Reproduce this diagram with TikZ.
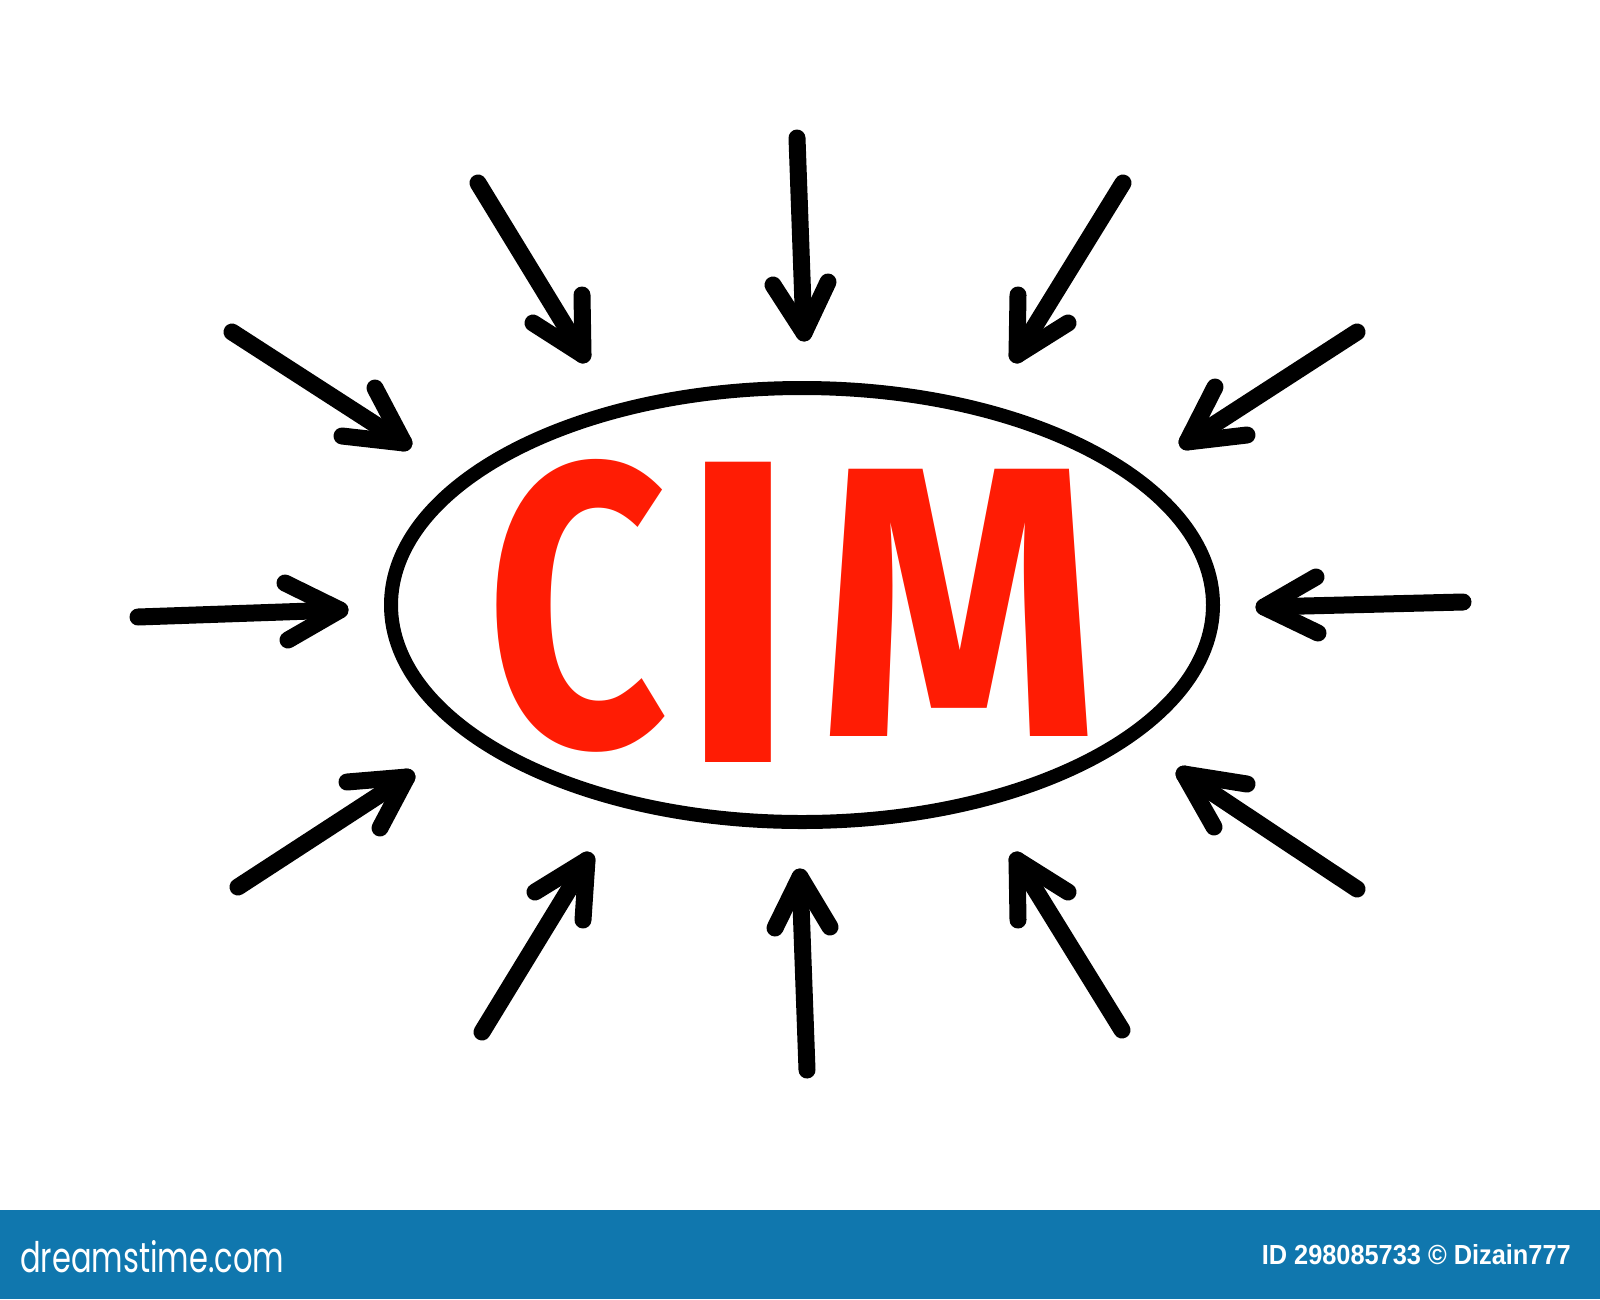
\documentclass[tikz,border=0pt]{standalone}
\usepackage{fontspec}
\usetikzlibrary{shapes.geometric}
\setmainfont{Liberation Sans}
\newfontfamily\cimfont{Fira Sans}
\newfontfamily\logofont{Poppins}
\definecolor{cimred}{RGB}{255,28,4}
\definecolor{barblue}{RGB}{16,119,174}
\newcommand\inarrow[5]{%
  \coordinate (#1t) at (#2);
  \coordinate (#1h) at (#3);
  \coordinate (#1a) at (#4);
  \coordinate (#1b) at (#5);
  \draw[arrowline] (#1t) -- (#1h);
  \draw[arrowline] (#1a) -- (#1h) -- (#1b);
}
\begin{document}
\begin{tikzpicture}[x=1pt,y=-1pt,
  arrowline/.style={line width=17pt,line cap=round,line join=round,draw=black},
  ringline/.style={ellipse,draw=black,line width=14pt,inner sep=0pt,minimum width=822pt,minimum height=434pt}]
\useasboundingbox (0,0) rectangle (1600,1299);
\fill[white] (0,0) rectangle (1600,1299);
\fill[barblue] (0,1210) rectangle (1600,1299);
\node[ringline] (ring) at (802,605) {};
\node[inner sep=0pt,text=cimred] (cim) at (793,611) {\resizebox{613pt}{302pt}{\cimfont\bfseries
  \raisebox{0.38pt}{\scalebox{0.88}[0.93]{C}}\kern0.35pt\scalebox{1.12}[1]{I}\kern0.6pt\raisebox{0.6pt}{\scalebox{1}[0.89]{M}}}};
\inarrow{tc}{797,138}{804,333}{773,285}{828,282}
\inarrow{tli}{478,183}{583,355}{533,323}{582,295}
\inarrow{tri}{1123,183}{1017,355}{1018,295}{1068,323}
\inarrow{lu}{232,332}{404,443}{342,436}{375,388}
\inarrow{ru}{1357,332}{1187,442}{1215,387}{1247,435}
\inarrow{lm}{138,617}{340,610}{285,583}{288,640}
\inarrow{rm}{1463,602}{1264,607}{1316,577}{1318,633}
\inarrow{ll}{238,887}{407,777}{347,782}{380,828}
\inarrow{rl}{1357,889}{1184,774}{1214,827}{1247,784}
\inarrow{bli}{482,1032}{587,860}{535,892}{583,920}
\inarrow{bc}{807,1070}{800,877}{775,928}{830,927}
\inarrow{bri}{1122,1030}{1017,860}{1018,920}{1068,892}
\node[anchor=west,inner sep=0pt,text=white] (logo) at (20,1257) {\resizebox{264pt}{32pt}{\logofont dreamstime.com}};
\node[anchor=east,inner sep=0pt,text=white] (id) at (1571,1255) {\resizebox{309pt}{20pt}{\bfseries ID 298085733 \textcopyright{} Dizain777}};
\end{tikzpicture}
\end{document}
